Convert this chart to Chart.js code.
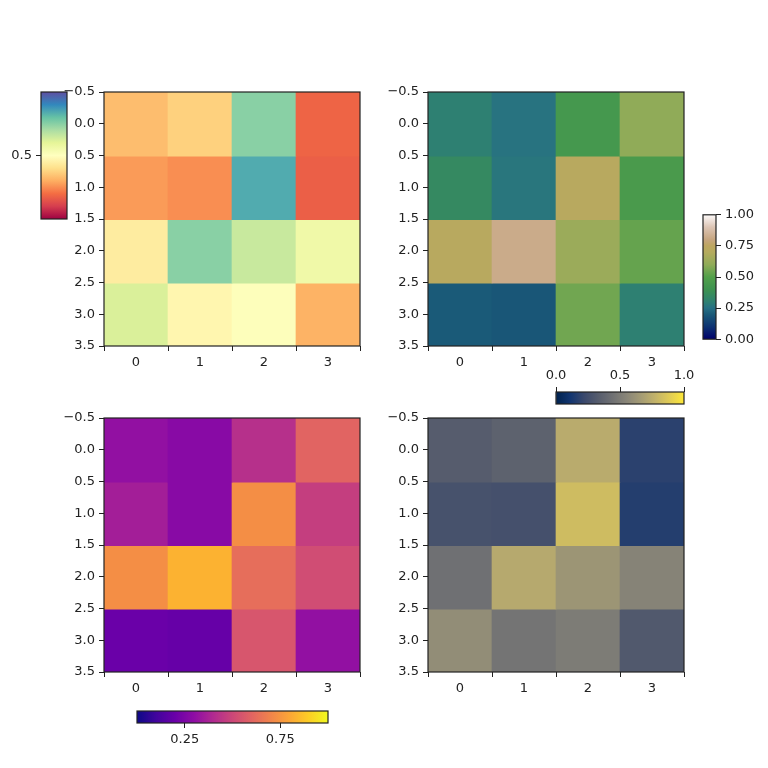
<!DOCTYPE html>
<html>
<head>
<meta charset="utf-8">
<style>
  html, body { margin: 0; padding: 0; background: #fff; }
  #page { position: relative; width: 768px; height: 768px; overflow: hidden; }
  canvas { position: absolute; }
</style>
<script src="https://cdn.jsdelivr.net/npm/chart.js@4/dist/chart.umd.min.js"></script>
</head>
<body>
<div id="page"></div>
<script>
// categories and tick labels
const columns = ['0', '1', '2', '3'];
const yTicks = [-0.5, 0, 0.5, 1, 1.5, 2, 2.5, 3, 3.5];
const yTickLabels = ['\u22120.5', '0.0', '0.5', '1.0', '1.5', '2.0', '2.5', '3.0', '3.5'];

// cell values, one row per image row
const spectralValues = [
  [0.33, 0.37, 0.75, 0.18],
  [0.27, 0.25, 0.84, 0.17],
  [0.44, 0.75, 0.65, 0.56],
  [0.62, 0.47, 0.51, 0.31]
];
const earthValues = [
  [0.30, 0.26, 0.44, 0.60],
  [0.35, 0.27, 0.72, 0.46],
  [0.72, 0.82, 0.63, 0.53],
  [0.20, 0.19, 0.55, 0.30]
];
const plasmaValues = [
  [0.31, 0.28, 0.42, 0.60],
  [0.36, 0.28, 0.73, 0.47],
  [0.73, 0.83, 0.63, 0.52],
  [0.20, 0.19, 0.55, 0.31]
];
const cividisValues = [
  [0.33, 0.36, 0.74, 0.18],
  [0.27, 0.26, 0.82, 0.16],
  [0.44, 0.73, 0.63, 0.54],
  [0.59, 0.46, 0.50, 0.31]
];

// colorbar ticks
const spectralTicks = [0.5];
const spectralTickLabels = ['0.5'];
const earthTicks = [0, 0.25, 0.5, 0.75, 1];
const earthTickLabels = ['0.00', '0.25', '0.50', '0.75', '1.00'];
const plasmaTicks = [0.25, 0.75];
const plasmaTickLabels = ['0.25', '0.75'];
const cividisTicks = [0, 0.5, 1];
const cividisTickLabels = ['0.0', '0.5', '1.0'];

// colormaps as [position, color]
const spectralMap = [[0,'#9e0142'],[.1,'#d53e4f'],[.2,'#f46d43'],[.3,'#fdae61'],[.4,'#fee08b'],[.5,'#ffffbf'],
  [.6,'#e6f598'],[.7,'#abdda4'],[.8,'#66c2a5'],[.9,'#3288bd'],[1,'#5e4fa2']];
const earthMap = [[0,'#00006a'],[.1,'#0c3272'],[.2,'#1a5a78'],[.25,'#267084'],[.3,'#2e8072'],[.4,'#3d9250'],
  [.5,'#52a04a'],[.6,'#90ab58'],[.7,'#b5ab5e'],[.75,'#bda660'],[.8,'#c6a57f'],[.9,'#dcc4b4'],[1,'#fdfafa']];
const plasmaMap = [[0,'#0d0887'],[.1,'#41049d'],[.2,'#6a00a8'],[.3,'#8f0da4'],[.4,'#b12a90'],[.5,'#cc4778'],
  [.6,'#e16462'],[.7,'#f1844b'],[.8,'#fca636'],[.9,'#fcce25'],[1,'#f0f921']];
const cividisMap = [[0,'#00224e'],[.111,'#123570'],[.222,'#3b496c'],[.333,'#575d6d'],[.444,'#707173'],
  [.556,'#8a8678'],[.667,'#a59c74'],[.778,'#c3b369'],[.889,'#e1cc55'],[1,'#fee838']];

const FONT = { family: '"DejaVu Sans"', size: 13 };
const INK = '#222';

Chart.defaults.font.family = FONT.family;
Chart.defaults.font.size = FONT.size;
Chart.defaults.color = INK;

function hexToRgb(hex) {
  const n = parseInt(hex.slice(1), 16);
  return [(n >> 16) & 255, (n >> 8) & 255, n & 255];
}

function colorFor(map, v) {
  for (let i = 1; i < map.length; i++) {
    if (v <= map[i][0]) {
      const t = (v - map[i - 1][0]) / (map[i][0] - map[i - 1][0]);
      const a = hexToRgb(map[i - 1][1]), b = hexToRgb(map[i][1]);
      return 'rgb(' + a.map((c, k) => Math.round(c + (b[k] - c) * t)).join(',') + ')';
    }
  }
  return map[map.length - 1][1];
}

// dark box around the plot area, matplotlib style
const framePlugin = {
  id: 'frame',
  afterDraw(chart) {
    const a = chart.chartArea, ctx = chart.ctx;
    ctx.save();
    ctx.strokeStyle = INK;
    ctx.lineWidth = 1.2;
    ctx.strokeRect(a.left, a.top, a.right - a.left, a.bottom - a.top);
    ctx.restore();
  }
};

function addCanvas(left, top, width, height) {
  const el = document.createElement('canvas');
  el.width = width;
  el.height = height;
  el.style.left = left + 'px';
  el.style.top = top + 'px';
  el.style.width = width + 'px';
  el.style.height = height + 'px';
  document.getElementById('page').appendChild(el);
  return el;
}

const tickGrid = { display: true, drawOnChartArea: false, drawTicks: true, tickLength: 5, tickColor: INK };

// one heatmap: floating bars, one dataset per row
function heatmap(plotLeft, plotTop, values, map) {
  const el = addCanvas(plotLeft - 44, plotTop - 12, 308, 302);
  const datasets = values.map((row, r) => ({
    // small overlap so the fractional row edges show no seam
    data: row.map(() => [r - 0.5, r + 0.51]),
    backgroundColor: row.map(v => colorFor(map, v)),
    borderWidth: 0,
    barPercentage: 1,
    categoryPercentage: 1
  }));
  new Chart(el, {
    type: 'bar',
    data: { labels: columns, datasets },
    plugins: [framePlugin],
    options: {
      responsive: false,
      animation: false,
      layout: { padding: { left: 0, top: 12, right: 8, bottom: 6 } },
      plugins: { legend: { display: false }, tooltip: { enabled: false } },
      scales: {
        x: {
          stacked: true,
          grid: tickGrid,
          border: { display: false },
          ticks: { padding: 4, maxRotation: 0, autoSkip: false },
          afterFit(s) { s.height = 30; }
        },
        y: {
          min: -0.5,
          max: 3.5,
          reverse: true,
          grid: tickGrid,
          border: { display: false },
          ticks: { stepSize: 0.5, padding: 4, autoSkip: false, callback: v => yTickLabels[yTicks.indexOf(v)] },
          afterFit(s) { s.width = 44; }
        }
      }
    }
  });
}

// one colorbar: a single bar from 0 to 1 filled with a gradient along the value scale
function colorbar(box, map, ticks, tickLabels, side) {
  const vertical = side === 'left' || side === 'right';
  const axisSize = box.axis;
  const pad = box.pad;
  const width = box.w + pad.left + pad.right + (vertical ? axisSize : 0);
  const height = box.h + pad.top + pad.bottom + (vertical ? 0 : axisSize);
  const left = box.x - pad.left - (side === 'left' ? axisSize : 0);
  const top = box.y - pad.top - (side === 'top' ? axisSize : 0);
  const el = addCanvas(left, top, width, height);
  const valueId = vertical ? 'y' : 'x';
  const indexId = vertical ? 'x' : 'y';

  const fill = ctx => {
    const s = ctx.chart.scales[valueId];
    if (!s || !ctx.chart.chartArea) return map[0][1];
    const p0 = s.getPixelForValue(0), p1 = s.getPixelForValue(1);
    const g = vertical
      ? ctx.chart.ctx.createLinearGradient(0, p0, 0, p1)
      : ctx.chart.ctx.createLinearGradient(p0, 0, p1, 0);
    map.forEach(stop => g.addColorStop(stop[0], stop[1]));
    return g;
  };

  new Chart(el, {
    type: 'bar',
    data: {
      labels: [''],
      datasets: [{ data: [[0, 1]], backgroundColor: fill, borderWidth: 0, barPercentage: 1, categoryPercentage: 1 }]
    },
    plugins: [framePlugin],
    options: {
      responsive: false,
      animation: false,
      indexAxis: indexId,
      layout: { padding: pad },
      plugins: { legend: { display: false }, tooltip: { enabled: false } },
      scales: {
        [indexId]: { type: 'category', display: false },
        [valueId]: {
          type: 'linear',
          position: side,
          min: 0,
          max: 1,
          grid: tickGrid,
          border: { display: false },
          ticks: { padding: 4, autoSkip: false, maxRotation: 0, callback: (v, i) => tickLabels[i] },
          afterBuildTicks(s) { s.ticks = ticks.map(value => ({ value })); },
          afterFit(s) { if (vertical) s.width = axisSize; else s.height = axisSize; }
        }
      }
    }
  });
}

heatmap(104, 92, spectralValues, spectralMap);
heatmap(428, 92, earthValues, earthMap);
heatmap(104, 418, plasmaValues, plasmaMap);
heatmap(428, 418, cividisValues, cividisMap);

colorbar({ x: 41, y: 92, w: 26, h: 127, axis: 41, pad: { left: 0, top: 12, right: 2, bottom: 12 } },
  spectralMap, spectralTicks, spectralTickLabels, 'left');
colorbar({ x: 703, y: 213, w: 13, h: 128, axis: 48, pad: { left: 2, top: 10, right: 2, bottom: 10 } },
  earthMap, earthTicks, earthTickLabels, 'right');
colorbar({ x: 137, y: 711, w: 191, h: 12, axis: 28, pad: { left: 20, top: 2, right: 20, bottom: 2 } },
  plasmaMap, plasmaTicks, plasmaTickLabels, 'bottom');
colorbar({ x: 556, y: 392, w: 128, h: 12, axis: 28, pad: { left: 16, top: 2, right: 16, bottom: 2 } },
  cividisMap, cividisTicks, cividisTickLabels, 'top');
</script>
</body>
</html>
